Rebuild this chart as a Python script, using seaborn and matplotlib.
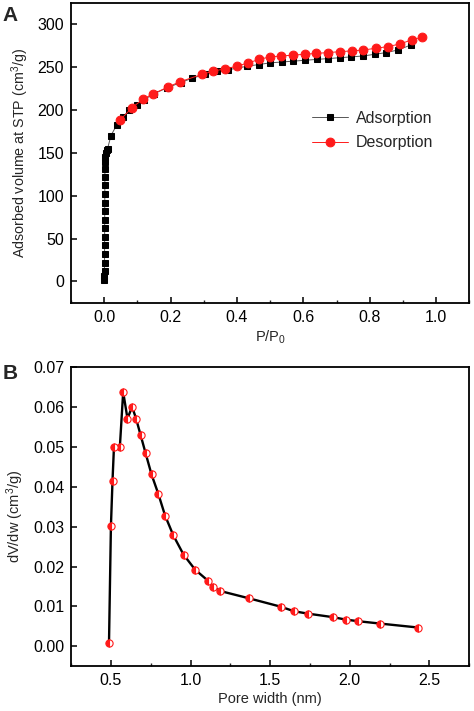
import matplotlib
matplotlib.use("Agg")
import matplotlib.pyplot as plt
import seaborn as sns
import numpy as np
import pandas as pd
from matplotlib.ticker import MultipleLocator

# Panel A: N2 isotherm
ads_p = [0.0005, 0.0006, 0.0007, 0.0008, 0.0009, 0.001, 0.0011, 0.0012, 0.0013, 0.0014,
         0.0015, 0.0016, 0.0017, 0.0018, 0.002, 0.0025, 0.003, 0.005, 0.007, 0.01,
         0.02, 0.038, 0.057, 0.075, 0.098, 0.12, 0.15, 0.19, 0.23, 0.264, 0.304, 0.339,
         0.374, 0.43, 0.465, 0.50, 0.535, 0.57, 0.605, 0.64, 0.675, 0.71, 0.745, 0.78,
         0.815, 0.85, 0.885, 0.925]
ads_v = [2, 6, 12, 22, 32, 42, 52, 62, 72, 82,
         92, 102, 112, 122, 131, 139, 145, 150, 153, 155,
         170, 183, 192, 200, 206, 212, 219, 226, 232, 237, 241.5, 245,
         247, 251, 253, 255, 256, 257, 258, 259, 260, 261, 262, 263,
         265, 267, 270, 276]
des_p = [0.047, 0.083, 0.118, 0.148, 0.193, 0.228, 0.294, 0.329, 0.364, 0.399, 0.434,
         0.467, 0.499, 0.534, 0.569, 0.604, 0.639, 0.674, 0.709, 0.746, 0.781, 0.818,
         0.855, 0.891, 0.928, 0.958]
des_v = [188, 202.5, 213, 219, 227, 233, 241.5, 245.5, 248, 251, 255,
         259, 262, 263, 264, 265, 266, 267, 268, 269, 270, 272,
         274, 277, 282, 285]

# Panel B: pore size distribution
pore_w = [0.488, 0.500, 0.510, 0.519, 0.556, 0.577, 0.604, 0.633, 0.658, 0.687,
          0.718, 0.755, 0.797, 0.840, 0.892, 0.956, 1.029, 1.108, 1.143, 1.183,
          1.370, 1.569, 1.648, 1.735, 1.895, 1.974, 2.050, 2.189, 2.430]
dvdw = [0.0009, 0.0301, 0.0415, 0.0499, 0.0499, 0.0638, 0.0571, 0.0601, 0.0571, 0.0529,
        0.0484, 0.0431, 0.0383, 0.0328, 0.0278, 0.0230, 0.0192, 0.0165, 0.0149, 0.0139,
        0.0120, 0.0099, 0.0088, 0.0082, 0.0073, 0.0067, 0.0063, 0.0057, 0.0047]

x_ticks_a = [0.0, 0.2, 0.4, 0.6, 0.8, 1.0]
y_ticks_a = [0, 50, 100, 150, 200, 250, 300]
x_ticks_b = [0.5, 1.0, 1.5, 2.0, 2.5]
y_ticks_b = [0.00, 0.01, 0.02, 0.03, 0.04, 0.05, 0.06, 0.07]

sns.set_theme(style="ticks")
plt.rcParams['font.family'] = ['Liberation Sans', 'DejaVu Sans']
plt.rcParams['mathtext.fontset'] = 'custom'
plt.rcParams['mathtext.rm'] = 'Liberation Sans'
plt.rcParams['mathtext.it'] = 'Liberation Sans:italic'

RED = '#ff1a1a'

fig = plt.figure(figsize=(4.74, 7.11), dpi=100)
axA = fig.add_axes([0.150, 0.574, 0.840, 0.422])
axB = fig.add_axes([0.150, 0.063, 0.840, 0.4205])

dfA1 = pd.DataFrame({'p': ads_p, 'v': ads_v})
dfA2 = pd.DataFrame({'p': des_p, 'v': des_v})
sns.lineplot(data=dfA1, x='p', y='v', ax=axA, sort=False, estimator=None,
             color='#555555', lw=0.7, marker='s', ms=4.8,
             markerfacecolor='black', markeredgecolor='black', label='Adsorption')
sns.lineplot(data=dfA2, x='p', y='v', ax=axA, sort=False, estimator=None,
             color=RED, lw=0.7, marker='o', ms=6.3,
             markerfacecolor=RED, markeredgecolor=RED, label='Desorption')

dfB = pd.DataFrame({'w': pore_w, 'd': dvdw})
sns.lineplot(data=dfB, x='w', y='d', ax=axB, sort=False, estimator=None,
             color='black', lw=1.7, zorder=2)
axB.plot(dfB['w'], dfB['d'], ls='none', marker='o', ms=5.2, fillstyle='left',
         markerfacecolor=RED, markerfacecoloralt='white', markeredgecolor=RED,
         markeredgewidth=0.8, zorder=3)

axA.set_xlim(-0.1, 1.1)
axA.set_ylim(-25, 325)
axA.set_xticks(x_ticks_a)
axA.set_xticklabels([f"{t:.1f}" for t in x_ticks_a])
axA.set_yticks(y_ticks_a)
axA.xaxis.set_minor_locator(MultipleLocator(0.1))
axA.set_xlabel('P/P$_0$', fontsize=10.5, labelpad=3)
axA.set_ylabel('Adsorbed volume at STP (cm$^3$/g)', fontsize=10.3, labelpad=5)

axB.set_xlim(0.25, 2.75)
axB.set_ylim(-0.005, 0.07)
axB.set_xticks(x_ticks_b)
axB.set_xticklabels([f"{t:.1f}" for t in x_ticks_b])
axB.set_yticks(y_ticks_b)
axB.set_yticklabels([f"{t:.2f}" for t in y_ticks_b])
axB.xaxis.set_minor_locator(MultipleLocator(0.25))
axB.set_xlabel('Pore width (nm)', fontsize=10.5, labelpad=3)
axB.set_ylabel('dV/dw (cm$^3$/g)', fontsize=10.5, labelpad=5)

for ax in (axA, axB):
    for s in ax.spines.values():
        s.set_visible(True)
        s.set_linewidth(1.3)
        s.set_color('black')
    ax.tick_params(which='major', direction='in', length=4, width=1.1,
                   labelsize=11.5, colors='black', pad=5)
    ax.tick_params(which='minor', direction='in', length=2.5, width=1.0)
    ax.tick_params(axis='y', which='minor', left=False)

leg = axA.legend(loc='center left', bbox_to_anchor=(0.59, 0.575), frameon=False,
                 fontsize=11.5, handlelength=2.2, handletextpad=0.5, labelspacing=0.6,
                 borderaxespad=0)

fig.text(0.006, 0.991, 'A', fontsize=15, fontweight='bold', va='top', ha='left')
fig.text(0.006, 0.488, 'B', fontsize=15, fontweight='bold', va='top', ha='left')

fig.savefig('out.png', dpi=100)
